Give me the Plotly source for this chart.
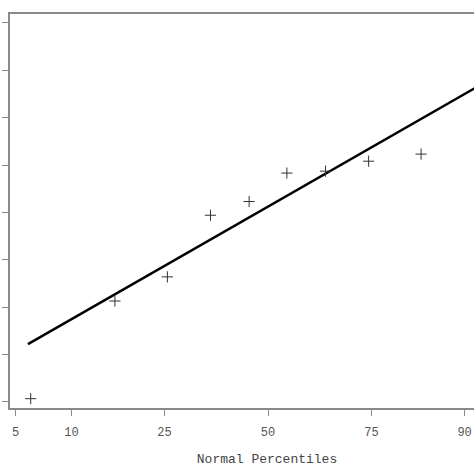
import plotly.graph_objects as go

# Normal scores (z) of the plotted observations and their values
point_z = [-1.547, -0.998, -0.656, -0.375, -0.123, 0.123, 0.375, 0.656, 0.998]
point_y = [0.07, 2.13, 2.64, 3.94, 4.23, 4.83, 4.87, 5.08, 5.23]

# Fitted reference line (endpoints in data units)
line_z = [-1.565, 1.547]
line_y = [1.22, 6.99]

# X ticks: normal quantiles of the percentiles
tick_z = [-1.6449, -1.2816, -0.6745, 0.0, 0.6745, 1.2816]
tick_labels = ["5", "10", "25", "50", "75", "90"]
y_ticks = [0, 1, 2, 3, 4, 5, 6, 7, 8]

fig = go.Figure()
fig.add_trace(go.Scatter(
    x=line_z, y=line_y, mode="lines",
    line=dict(color="black", width=2.5), showlegend=False, hoverinfo="skip"))
fig.add_trace(go.Scatter(
    x=point_z, y=point_y, mode="markers",
    marker=dict(symbol="cross-thin", size=8, line=dict(color="#333333", width=1)),
    showlegend=False))

axis_color = "#8a8a8a"
fig.update_layout(
    width=524, height=474,
    margin=dict(l=10, r=0, t=14, b=66),
    paper_bgcolor="white", plot_bgcolor="white",
    font=dict(family="Liberation Mono, Courier New, monospace", size=12, color="#555555"),
    xaxis=dict(
        range=[-1.682, 1.669], tickvals=tick_z, ticktext=tick_labels,
        showgrid=False, zeroline=False, showline=True, linecolor=axis_color, linewidth=2,
        mirror=True, ticks="outside", ticklen=6, tickcolor=axis_color, tickwidth=1,
        ticklabelstandoff=6,
        title=dict(text="Normal Percentiles", font=dict(size=13, color="#444444"), standoff=14),
    ),
    yaxis=dict(
        range=[-0.127, 8.186], tickvals=y_ticks, showticklabels=False,
        showgrid=False, zeroline=False, showline=True, linecolor=axis_color, linewidth=2,
        ticks="outside", ticklen=6, tickcolor=axis_color, tickwidth=1,
    ),
)

fig.write_html(
    "out.html",
    config={"displayModeBar": False},
    post_script="document.body.style.margin='0';document.body.style.overflow='hidden';",
)
